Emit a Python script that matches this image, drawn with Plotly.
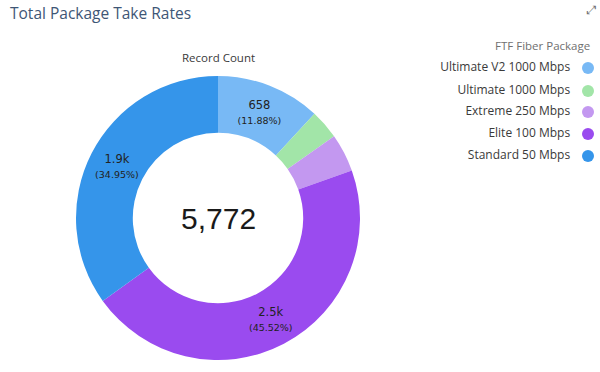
import plotly.graph_objects as go

packages = ["Ultimate V2 1000 Mbps", "Ultimate 1000 Mbps", "Extreme 250 Mbps",
            "Elite 100 Mbps", "Standard 50 Mbps"]
counts = [686, 193, 250, 2627, 2016]
value_labels = ["658", "", "", "2.5k", "1.9k"]
pct_labels = ["11.88%", "", "", "45.52%", "34.95%"]
colors = ["#78B9F5", "#A2E5A8", "#C398F0", "#9A4BEF", "#3595EA"]
total_label = "5,772"

W, H = 600, 372

slice_text = [f"{v}<br><span style='font-size:9.5px'>({p})</span>" if v else ""
              for v, p in zip(value_labels, pct_labels)]

fig = go.Figure()
fig.add_trace(go.Pie(
    labels=packages, values=counts, sort=False, direction="clockwise",
    rotation=0, hole=0.6,
    marker=dict(colors=colors, line=dict(color="white", width=0)),
    text=slice_text, textinfo="text", textposition="inside",
    insidetextorientation="horizontal",
    textfont=dict(family="DejaVu Sans", size=11.5, color="#222222"),
    domain=dict(x=[76 / W, 360 / W], y=[12 / H, 296 / H]),
    showlegend=False, hoverinfo="label+value+percent",
))

# custom legend: markers on the right of right-aligned text
leg_y = [68, 91, 112, 134, 156]
fig.add_trace(go.Scatter(
    x=[588] * len(packages), y=leg_y, mode="markers+text",
    marker=dict(size=12, color=colors, symbol="circle"),
    text=[p + "   " for p in packages], textposition="middle left",
    textfont=dict(family="Open Sans", size=12, color="#3a3a3a"),
    showlegend=False, hoverinfo="skip",
    xaxis="x", yaxis="y",
))

fig.update_layout(
    width=W, height=H,
    margin=dict(l=0, r=0, t=0, b=0),
    paper_bgcolor="white", plot_bgcolor="rgba(0,0,0,0)",
    xaxis=dict(range=[0, W], visible=False, fixedrange=True, domain=[0, 1]),
    yaxis=dict(range=[H, 0], visible=False, fixedrange=True, domain=[0, 1]),
    annotations=[
        dict(text="Total Package Take Rates", x=8 / W, y=1 - 13 / H, xref="paper", yref="paper",
             xanchor="left", yanchor="middle", showarrow=False,
             font=dict(family="Open Sans", size=15.5, color="#3E5676")),
        dict(text="Record Count", x=218 / W, y=1 - 58 / H, xref="paper", yref="paper",
             xanchor="center", yanchor="middle", showarrow=False,
             font=dict(family="Open Sans", size=11.5, color="#3a3a3a")),
        dict(text=total_label, x=218 / W, y=1 - 218 / H, xref="paper", yref="paper",
             xanchor="center", yanchor="middle", showarrow=False,
             font=dict(family="Liberation Sans", size=30, color="#1a1a1a")),
        dict(text="FTF Fiber Package", x=592 / W, y=1 - 45 / H, xref="paper", yref="paper",
             xanchor="right", yanchor="middle", showarrow=False,
             font=dict(family="Open Sans", size=11.5, color="#707070")),
        dict(text="⤢", x=591 / W, y=1 - 10 / H, xref="paper", yref="paper",
             xanchor="center", yanchor="middle", showarrow=False,
             font=dict(family="DejaVu Sans", size=12, color="#707070")),
    ],
)

fig.write_html("out.html", config={"displayModeBar": False},
               post_script="document.body.style.margin='0';document.body.style.overflow='hidden';")
